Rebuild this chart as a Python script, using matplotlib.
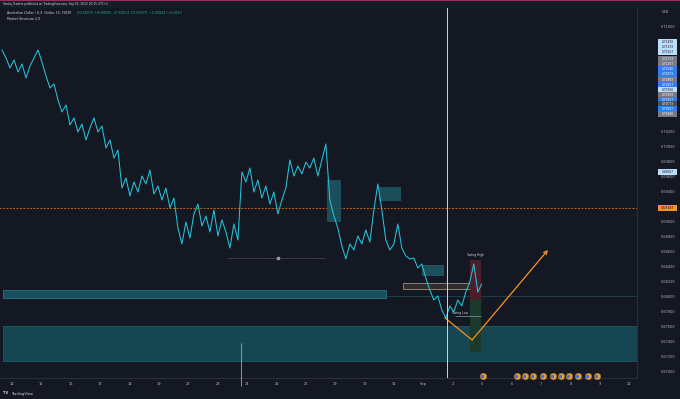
import numpy as np
import matplotlib.pyplot as plt
import matplotlib.transforms as mtransforms
from matplotlib.patches import Rectangle

# AUD/USD 15m closes, one point about every 4 px
close = [0.71293, 0.71187, 0.71053, 0.71160, 0.71000, 0.71107, 0.70920, 0.71080, 0.71187, 0.71293,
         0.71133, 0.70947, 0.70787, 0.70840, 0.70627, 0.70467, 0.70560, 0.70293, 0.70387, 0.70200,
         0.70307, 0.70093, 0.70253, 0.70387, 0.70200, 0.70280, 0.69987, 0.70093, 0.69853, 0.69960,
         0.69453, 0.69587, 0.69347, 0.69533, 0.69400, 0.69613, 0.69507, 0.69693, 0.69373, 0.69480,
         0.69293, 0.69453, 0.69187, 0.69320, 0.68920, 0.68707, 0.69000, 0.68787, 0.69107, 0.69240,
         0.68947, 0.69080, 0.68867, 0.69160, 0.68813, 0.69027, 0.68867, 0.68653, 0.68973, 0.68760,
         0.69667, 0.69533, 0.69720, 0.69400, 0.69560, 0.69320, 0.69480, 0.69240, 0.69400, 0.69107,
         0.69293, 0.69453, 0.69827, 0.69613, 0.69747, 0.69640, 0.69800, 0.69720, 0.69853, 0.69613,
         0.69827, 0.70040, 0.69293, 0.69080, 0.68920, 0.68680, 0.68507, 0.68707, 0.68627, 0.68813,
         0.68707, 0.68893, 0.68733, 0.69160, 0.69507, 0.69160, 0.68760, 0.68627, 0.68707, 0.68973,
         0.68653, 0.68547, 0.68507, 0.68520, 0.68387, 0.68440, 0.68253, 0.68093, 0.67960, 0.68013,
         0.67827, 0.67720, 0.67880, 0.67800, 0.67960, 0.67880, 0.68067, 0.68200, 0.68440, 0.68067,
         0.68173]
first_day = -0.34
day_step = 0.136

day_labels = ['12', '15', '16', '17', '18', '19', '22', '23', '24', '25', '26',
              '29', '30', '31', 'Sep', '2', '5', '6', '7', '8', '9', '12']
# scale labels that are not hidden under the indicator tags
price_ticks = [0.7160, 0.7020, 0.7000, 0.6980, 0.6960, 0.6940, 0.6900, 0.6880, 0.6860,
               0.6840, 0.6820, 0.6800, 0.6780, 0.6760, 0.6740, 0.6720, 0.6700]

# indicator price tags on the right scale
marker_prices = [0.71400, 0.71333, 0.71267, 0.71173, 0.71107, 0.71040, 0.70973, 0.70893,
                 0.70827, 0.70760, 0.70693, 0.70627, 0.70573, 0.70507, 0.70440, 0.69667]
marker_kinds = ['l', 'l', 'l', 'g', 'g', 'b', 'b', 'g', 'b', 'l', 'g', 'b', 'd', 'b', 'g', 'l']
level_price = 0.69187

demand_zone = (0.67147, 0.67613)
thin_zone = (0.67987, 0.68093)
event_days = [16.02, 17.18, 17.45, 17.72, 18.06, 18.40, 18.67, 18.95, 19.25, 19.59, 19.90]

bg = '#141822'
cyan = '#26c2d9'
orange = '#f7931e'
txt = '#b2b5be'

fig = plt.figure(figsize=(6.8, 3.99), dpi=100)
fig.patch.set_facecolor(bg)
ax = fig.add_axes([0, 21 / 399, 637 / 680, 370 / 399])
ax.set_facecolor(bg)
ax.set_xlim(-0.408, 21.259)
ax.set_ylim(0.6692, 0.71853)
for s in ['top', 'left']:
    ax.spines[s].set_visible(False)
for s in ['right', 'bottom']:
    ax.spines[s].set_color('#2a2e39')
    ax.spines[s].set_linewidth(0.8)

# zones
ax.add_patch(Rectangle((-0.31, demand_zone[0]), 30, demand_zone[1] - demand_zone[0],
                       fc='#164652', ec='#1f6270', lw=0.5, zorder=1))
ax.add_patch(Rectangle((-0.31, thin_zone[0]), 13.03, thin_zone[1] - thin_zone[0],
                       fc='#174f5c', ec='#2c8494', lw=0.5, zorder=1))
ax.hlines(0.68013, 12.72, 22, color='#1f4e5a', lw=0.5, zorder=1)
ax.hlines(level_price, -0.5, 22, color='#c8621a', lw=0.7, linestyles=(0, (2, 1.5)), zorder=1)

ax.add_patch(Rectangle((10.71, 0.6900), 0.48, 0.0056, fc='#1d5561', ec='none', alpha=0.9, zorder=1))
ax.add_patch(Rectangle((12.48, 0.6928), 0.75, 0.00187, fc='#1d5561', ec='none', alpha=0.9, zorder=1))
ax.add_patch(Rectangle((13.95, 0.68293), 0.71, 0.00134, fc='#1b4f5c', ec='#2a6f7c', lw=0.4, zorder=1))
ax.add_patch(Rectangle((13.30, 0.68107), 2.62, 0.0008, fc='#2e2c2e', ec='#b8a88c', lw=0.5, zorder=1))
ax.add_patch(Rectangle((15.58, 0.6796), 0.37, 0.00533, fc='#4a1f2a', ec='none', zorder=1))
ax.add_patch(Rectangle((15.58, 0.67267), 0.37, 0.00693, fc='#1b3a2c', ec='none', zorder=1))

ax.hlines(0.6852, 7.35, 10.65, color='#5d606b', lw=0.5, linestyles=(0, (2, 1)), zorder=2)
ax.plot([9.05], [0.6852], marker='s', ms=1.8, color='#9598a1', zorder=3)

# price
t = first_day + day_step * np.arange(len(close))
ax.plot(t, close, color=cyan, lw=0.75, zorder=4)
ax.vlines(7.79, 0.6682, 0.67387, color=cyan, lw=0.7, zorder=4, clip_on=False)

# swing labels
ax.text(15.78, 0.6853, 'Swing High', color='#d1d4dc', fontsize=2.2, ha='center', va='bottom', zorder=5)
ax.text(15.24, 0.67787, 'Swing Low', color='#d1d4dc', fontsize=2.2, ha='center', va='center', zorder=5)
ax.hlines(0.67747, 15.07, 15.95, color='#9598a1', lw=0.5, zorder=5)

# projected path
ax.plot([14.73, 15.65], [0.6772, 0.67427], color=orange, lw=0.9, zorder=5)
ax.annotate('', xy=(18.23, 0.68627), xytext=(15.65, 0.67427),
            arrowprops=dict(arrowstyle='->', color=orange, lw=0.9, shrinkA=0, shrinkB=0,
                            mutation_scale=6), zorder=5)

ax.axvline(14.80, color='#d1d4dc', lw=0.7, zorder=6)

# axes ticks
ax.set_xticks(range(len(day_labels)))
ax.set_xticklabels(day_labels)
ax.tick_params(axis='x', length=0, pad=3, labelsize=2.6, labelcolor=txt)
ax.yaxis.tick_right()
ax.set_yticks(price_ticks)
ax.set_yticklabels(['%.5f' % p for p in price_ticks])
ax.tick_params(axis='y', length=0, pad=17, labelsize=2.5, labelcolor=txt)

bt = mtransforms.blended_transform_factory(ax.transAxes, ax.transData)
kind_fc = {'l': '#bbdefb', 'g': '#787b86', 'b': '#2f80ed', 'd': '#50535e'}
kind_tc = {'l': '#131722', 'g': '#ffffff', 'b': '#ffffff', 'd': '#ffffff'}
for p, k in zip(marker_prices, marker_kinds):
    ax.add_patch(Rectangle((658 / 637, p - 0.00034), 19 / 637, 0.00068, transform=bt,
                           fc=kind_fc[k], ec='none', clip_on=False, zorder=7))
    ax.text(667.5 / 637, p, '%.5f' % p, transform=bt, fontsize=2.1, color=kind_tc[k],
            ha='center', va='center', clip_on=False, zorder=8)
ax.add_patch(Rectangle((658 / 637, level_price - 0.00045), 19 / 637, 0.0009, transform=bt,
                       fc='#f7931e', ec='none', clip_on=False, zorder=7))
ax.text(667.5 / 637, level_price, '%.5f' % level_price, transform=bt, fontsize=2.3,
        color='#131722', ha='center', va='center', clip_on=False, zorder=8)

# economic events
et = mtransforms.blended_transform_factory(ax.transData, ax.transAxes)
ax.scatter(event_days, [0.006] * len(event_days), s=22, c='#e8a33a', edgecolors='#a86a1a',
           linewidths=0.4, transform=et, clip_on=False, zorder=8)
ax.scatter([d - 0.04 for d in event_days], [0.006] * len(event_days), s=6, c='#3d6fd6',
           linewidths=0, transform=et, clip_on=False, zorder=9)

# header, legend, footer
fig.add_artist(Rectangle((0, 391 / 399), 1, 8 / 399, transform=fig.transFigure, fc='#181c27', ec='none'))
fig.add_artist(Rectangle((0, 397.8 / 399), 1, 1.2 / 399, transform=fig.transFigure, fc='#9c2f5e', ec='none'))
fig.text(3 / 680, 1 - 4.5 / 399, 'Sonko_Traders published on TradingView.com, Sep 05, 2022 00:05 UTC+2',
         fontsize=2.1, color='#d1d4dc', va='center')
fig.text(7 / 680, 1 - 13 / 399, 'Australian Dollar / U.S. Dollar, 15, FXCM', fontsize=2.3,
         color='#d1d4dc', va='center')
fig.text(77 / 680, 1 - 13 / 399, 'O0.68079  H0.68085  L0.68074  C0.68079  +0.00004 (+0.01%)',
         fontsize=2.3, color='#26a69a', va='center')
fig.text(7 / 680, 1 - 19 / 399, 'Market Structure 2.0', fontsize=2.3, color='#d1d4dc', va='center')
fig.text(662 / 680, 1 - 12 / 399, 'USD', fontsize=2.4, color=txt, va='center')
fig.text(3 / 680, 1 - 393.5 / 399, 'TV', fontsize=2.6, color='#d1d4dc', va='center', fontweight='bold')
fig.text(11 / 680, 1 - 393.5 / 399, 'TradingView', fontsize=2.6, color='#d1d4dc', va='center')

fig.savefig('out.png', dpi=100, facecolor=bg)
